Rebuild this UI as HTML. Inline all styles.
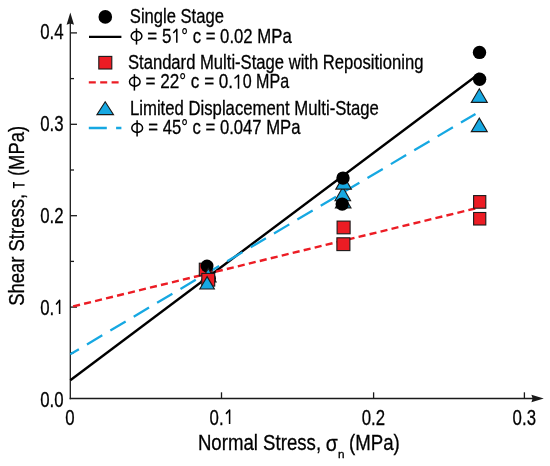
<!DOCTYPE html>
<html><head><meta charset="utf-8"><style>
html,body{margin:0;padding:0;background:#fff;}
svg{display:block;will-change:transform;}
text{font-family:"Liberation Sans",sans-serif;fill:#000;stroke:#000;stroke-width:0.3px;}
</style></head><body>
<svg width="550" height="466" viewBox="0 0 550 466">
<g stroke="#1a1a1a" stroke-width="1.3" fill="none">
<line x1="70.3" y1="399.15" x2="70.3" y2="22"/>
<line x1="69.65" y1="398.5" x2="534" y2="398.5"/>
<line x1="70.3" y1="307.10" x2="77" y2="307.10"/>
<line x1="70.3" y1="215.70" x2="77" y2="215.70"/>
<line x1="70.3" y1="124.30" x2="77" y2="124.30"/>
<line x1="70.3" y1="32.90" x2="77" y2="32.90"/>
<line x1="70.3" y1="352.80" x2="74" y2="352.80"/>
<line x1="70.3" y1="261.40" x2="74" y2="261.40"/>
<line x1="70.3" y1="170.00" x2="74" y2="170.00"/>
<line x1="70.3" y1="78.60" x2="74" y2="78.60"/>
<line x1="221.50" y1="398.5" x2="221.50" y2="392.3"/>
<line x1="373.60" y1="398.5" x2="373.60" y2="392.3"/>
<line x1="524.40" y1="398.5" x2="524.40" y2="392.3"/>
</g>
<path d="M70.3,12.6 L74.0,24.8 L70.3,23.6 L66.6,24.8 Z" fill="#1a1a1a"/>
<path d="M543.8,398.5 L531.4,394.8 L532.6,398.5 L531.4,402.2 Z" fill="#1a1a1a"/>
<text transform="translate(63.60,406.50) scale(0.782,1)" font-size="21.5" text-anchor="end">0.0</text>
<text transform="translate(40.23,314.50) scale(0.782,1)" font-size="21.5" text-anchor="start">0.</text>
<path d="M56.10,304.40 L59.60,300.30 V314.00" stroke="#000" stroke-width="1.55" fill="none" stroke-linejoin="round"/>
<text transform="translate(63.60,222.60) scale(0.782,1)" font-size="21.5" text-anchor="end">0.2</text>
<text transform="translate(63.60,130.80) scale(0.782,1)" font-size="21.5" text-anchor="end">0.3</text>
<text transform="translate(63.60,39.00) scale(0.782,1)" font-size="21.5" text-anchor="end">0.4</text>
<text transform="translate(70.00,424.80) scale(0.782,1)" font-size="21.5" text-anchor="middle">0</text>
<text transform="translate(209.61,424.80) scale(0.782,1)" font-size="21.5" text-anchor="start">0.</text>
<path d="M226.00,413.90 L229.60,410.00 V423.90" stroke="#000" stroke-width="1.55" fill="none" stroke-linejoin="round"/>
<text transform="translate(373.40,424.80) scale(0.782,1)" font-size="21.5" text-anchor="middle">0.2</text>
<text transform="translate(524.30,424.80) scale(0.782,1)" font-size="21.5" text-anchor="middle">0.3</text>
<text transform="translate(197.91,450.30) scale(0.8470,1)" font-size="22">Normal Stress,</text>
<text transform="translate(325.82,450.90) scale(0.8850,1)" font-size="22">σ</text>
<text transform="translate(338.04,457.80) scale(1.1204,1)" font-size="10.5">n</text>
<text transform="translate(349.08,450.20) scale(0.8479,1)" font-size="22">(MPa)</text>
<text transform="translate(24.40,305.83) rotate(-90) scale(0.8206,1)" font-size="22.5">Shear Stress,</text>
<text transform="translate(24.40,176.11) rotate(-90) scale(0.8205,1)" font-size="22.5">(MPa)</text>
<path d="M13.75,181.9 V188.3 M13.5,185.0 H24.6" stroke="#000" stroke-width="1.5" fill="none"/>
<line x1="70.3" y1="380.2" x2="479.4" y2="73.5" stroke="#000" stroke-width="2.4"/>
<line x1="70.3" y1="354.3" x2="475.5" y2="113.9" stroke="#16a8e2" stroke-width="2.3" stroke-dasharray="17.8 9.38" stroke-dashoffset="7.8"/>
<line x1="70.3" y1="307.1" x2="476" y2="208.3" stroke="#ec1c24" stroke-width="2.4" stroke-dasharray="7.1 4.2" stroke-dashoffset="8.4"/>
<rect x="199.30" y="263.20" width="12.80" height="12.60" fill="#ec1c24" stroke="#1a1a1a" stroke-width="1.1"/>
<circle cx="209.5" cy="278.5" r="6.5" fill="#000"/>
<circle cx="207.0" cy="266.0" r="6.5" fill="#000"/>
<path d="M208.3,268.40 L216.10,281.90 L200.50,281.90 Z" fill="#16a8e2" stroke="#1a1a1a" stroke-width="1.1" stroke-linejoin="miter"/>
<rect x="201.80" y="273.40" width="12.90" height="12.70" fill="#ec1c24" stroke="#1a1a1a" stroke-width="1.1"/>
<path d="M207.1,276.60 L214.40,289.00 L199.80,289.00 Z" fill="#16a8e2" stroke="#1a1a1a" stroke-width="1.1" stroke-linejoin="miter"/>
<rect x="337.10" y="221.10" width="13.00" height="12.70" fill="#ec1c24" stroke="#1a1a1a" stroke-width="1.1"/>
<rect x="336.90" y="237.80" width="13.00" height="12.80" fill="#ec1c24" stroke="#1a1a1a" stroke-width="1.1"/>
<path d="M343.2,194.20 L351.00,207.90 L335.40,207.90 Z" fill="#16a8e2" stroke="#1a1a1a" stroke-width="1.1" stroke-linejoin="miter"/>
<path d="M342.8,187.00 L350.60,200.70 L335.00,200.70 Z" fill="#16a8e2" stroke="#1a1a1a" stroke-width="1.1" stroke-linejoin="miter"/>
<path d="M343.6,175.60 L351.40,189.10 L335.80,189.10 Z" fill="#16a8e2" stroke="#1a1a1a" stroke-width="1.1" stroke-linejoin="miter"/>
<circle cx="343.0" cy="178.1" r="6.7" fill="#000"/>
<circle cx="342.2" cy="204.1" r="6.7" fill="#000"/>
<circle cx="479.5" cy="52.4" r="6.7" fill="#000"/>
<circle cx="479.6" cy="79.3" r="6.7" fill="#000"/>
<path d="M479.3,88.80 L487.30,102.40 L471.30,102.40 Z" fill="#16a8e2" stroke="#1a1a1a" stroke-width="1.1" stroke-linejoin="miter"/>
<path d="M479.3,118.10 L487.30,131.60 L471.30,131.60 Z" fill="#16a8e2" stroke="#1a1a1a" stroke-width="1.1" stroke-linejoin="miter"/>
<rect x="473.60" y="195.60" width="12.20" height="12.60" fill="#ec1c24" stroke="#1a1a1a" stroke-width="1.1"/>
<rect x="473.60" y="212.50" width="12.20" height="12.50" fill="#ec1c24" stroke="#1a1a1a" stroke-width="1.1"/>
<circle cx="105.3" cy="16.9" r="6.8" fill="#000"/>
<line x1="89" y1="36.9" x2="121.4" y2="36.9" stroke="#000" stroke-width="2.2"/>
<text transform="translate(129.85,22.50) scale(0.8297,1)" font-size="20">Single Stage</text>
<ellipse cx="136.55" cy="36.10" rx="5.35" ry="4.50" fill="none" stroke="#000" stroke-width="1.5"/><line x1="136.50" y1="28.30" x2="136.50" y2="44.60" stroke="#000" stroke-width="1.5"/>
<text transform="translate(147.35,42.50) scale(0.8491,1)" font-size="20">= 5</text>
<path d="M173.30,33.00 L176.80,29.30 V42.80" stroke="#000" stroke-width="1.5" fill="none" stroke-linejoin="round"/>
<text transform="translate(181.30,42.50) scale(0.8370,1)" font-size="20">° c = 0.02 MPa</text>
<rect x="98.80" y="56.40" width="13.00" height="12.60" fill="#ec1c24" stroke="#1a1a1a" stroke-width="1.1"/>
<line x1="88.8" y1="82.3" x2="118.6" y2="82.3" stroke="#ec1c24" stroke-width="2.3" stroke-dasharray="7 4.4"/>
<text transform="translate(127.95,69.20) scale(0.8314,1)" font-size="20">Standard Multi-Stage with Repositioning</text>
<ellipse cx="134.80" cy="81.70" rx="5.30" ry="4.50" fill="none" stroke="#000" stroke-width="1.5"/><line x1="134.40" y1="74.20" x2="134.40" y2="90.60" stroke="#000" stroke-width="1.5"/>
<text transform="translate(145.55,88.40) scale(0.8546,1)" font-size="20">= 22° c = 0.</text>
<path d="M234.50,78.50 L238.50,75.20 V88.70" stroke="#000" stroke-width="1.5" fill="none" stroke-linejoin="round"/>
<text transform="translate(242.66,88.40) scale(0.8053,1)" font-size="20">0 MPa</text>
<path d="M105.2,101.70 L113.50,114.60 L96.90,114.60 Z" fill="#16a8e2" stroke="#1a1a1a" stroke-width="1.1" stroke-linejoin="miter"/>
<line x1="88.8" y1="128.0" x2="121.4" y2="128.0" stroke="#16a8e2" stroke-width="2.3" stroke-dasharray="18 9.3"/>
<text transform="translate(129.96,114.60) scale(0.8362,1)" font-size="20">Limited Displacement Multi-Stage</text>
<ellipse cx="137.20" cy="127.90" rx="5.40" ry="4.50" fill="none" stroke="#000" stroke-width="1.5"/><line x1="137.10" y1="120.30" x2="137.10" y2="136.50" stroke="#000" stroke-width="1.5"/>
<text transform="translate(148.37,134.30) scale(0.8336,1)" font-size="20">= 45° c = 0.047 MPa</text>
</svg>
</body></html>
